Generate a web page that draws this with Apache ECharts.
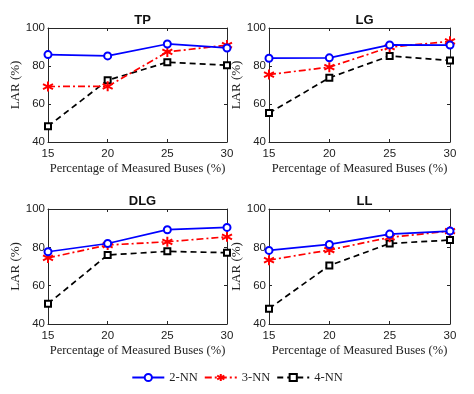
<!DOCTYPE html>
<html><head><meta charset="utf-8">
<script src="https://cdn.jsdelivr.net/npm/echarts@6/dist/echarts.min.js"></script>
<style>html,body{margin:0;padding:0;background:#fff}#c{width:474px;height:394px}</style>
</head><body><div id="c"></div>
<script>
const xValues = [15, 20, 25, 30];
const yTicks = [40, 60, 80, 100];
const panels = ['TP', 'LG', 'DLG', 'LL'];
const seriesNames = ['2-NN', '3-NN', '4-NN'];
// values per panel
const tp_2nn = [86.0, 85.3, 91.6, 89.5];
const tp_3nn = [69.2, 69.3, 87.4, 91.0];
const tp_4nn = [48.3, 72.5, 82.0, 80.4];
const lg_2nn = [84.1, 84.3, 91.1, 91.0];
const lg_3nn = [75.5, 79.4, 89.9, 93.0];
const lg_4nn = [55.2, 73.8, 85.3, 82.9];
const dlg_2nn = [77.7, 82.0, 89.2, 90.4];
const dlg_3nn = [74.5, 81.2, 82.9, 85.5];
const dlg_4nn = [50.6, 76.0, 77.9, 77.2];
const ll_2nn = [78.4, 81.5, 86.9, 88.5];
const ll_3nn = [73.3, 78.6, 85.2, 88.5];
const ll_4nn = [48.0, 70.5, 82.0, 83.8];

const panelData = [
  [tp_2nn, tp_3nn, tp_4nn],
  [lg_2nn, lg_3nn, lg_4nn],
  [dlg_2nn, dlg_3nn, dlg_4nn],
  [ll_2nn, ll_3nn, ll_4nn]
];

const grids = [
  {left: 48, top: 28, width: 179, height: 114},
  {left: 269, top: 28, width: 181, height: 114},
  {left: 48, top: 209, width: 179, height: 115},
  {left: 269, top: 209, width: 181, height: 115}
];

const axisColor = '#262626';
const serif = 'Liberation Serif';
const sans = 'Liberation Sans';
const asterisk = 'path://M0,-5L0,5M-4.33,-2.5L4.33,2.5M-4.33,2.5L4.33,-2.5';
const styles = [
  {color: '#0000ff', symbol: 'emptyCircle', symbolSize: 7, dash: 'solid', bw: 1.4},
  {color: '#ff0000', symbol: asterisk, symbolSize: 10, dash: [7, 3, 2, 3], bw: 2},
  {color: '#000000', symbol: 'emptyRect', symbolSize: 6, dash: [6, 4], bw: 1.5}
];

const xAxis = [], yAxis = [], series = [], title = [];
grids.forEach((g, i) => {
  const base = {
    gridIndex: i, type: 'value', min: 15, max: 30, interval: 5,
    axisLine: {show: true, lineStyle: {color: axisColor, width: 1}},
    axisTick: {show: true, inside: true, length: 3, lineStyle: {color: axisColor}},
    splitLine: {show: false}
  };
  xAxis.push(Object.assign({}, base, {
    position: 'bottom',
    name: 'Percentage of Measured Buses (%)', nameLocation: 'middle', nameGap: 20,
    nameTextStyle: {fontFamily: serif, fontSize: 12.5, color: '#222'},
    axisLabel: {margin: 6, fontFamily: sans, fontSize: 11.5, color: '#222'}
  }));
  xAxis.push(Object.assign({}, base, {position: 'top', axisLabel: {show: false}}));
  const ybase = {
    gridIndex: i, type: 'value', min: yTicks[0], max: yTicks[yTicks.length - 1], interval: 20,
    axisLine: {show: true, lineStyle: {color: axisColor, width: 1}},
    axisTick: {show: true, inside: true, length: 3, lineStyle: {color: axisColor}},
    splitLine: {show: false}
  };
  yAxis.push(Object.assign({}, ybase, {
    position: 'left',
    name: 'LAR (%)', nameLocation: 'middle', nameGap: 26, nameRotate: 90,
    nameTextStyle: {fontFamily: serif, fontSize: 13, color: '#222'},
    axisLabel: {margin: 3, fontFamily: sans, fontSize: 11.5, color: '#222'}
  }));
  yAxis.push(Object.assign({}, ybase, {position: 'right', axisLabel: {show: false}}));
  title.push({
    text: panels[i], left: g.left + g.width / 2, top: g.top - 19, textAlign: 'center',
    textStyle: {fontFamily: sans, fontSize: 13, fontWeight: 'bold', color: '#111'}
  });
  panelData[i].forEach((vals, k) => {
    const s = styles[k];
    series.push({
      name: seriesNames[k], type: 'line',
      xAxisIndex: i * 2, yAxisIndex: i * 2,
      data: xValues.map((x, j) => [x, vals[j]]),
      symbol: s.symbol, symbolSize: s.symbolSize,
      lineStyle: {color: s.color, width: 1.7, type: s.dash},
      itemStyle: {color: s.color, borderColor: s.color, borderWidth: s.bw},
      emphasis: {disabled: true},
      z: 3 - k,
      animation: false
    });
  });
});

const chart = echarts.init(document.getElementById('c'), null, {renderer: 'canvas'});
chart.setOption({
  animation: false,
  backgroundColor: '#fff',
  title: title,
  grid: grids,
  xAxis: xAxis,
  yAxis: yAxis,
  legend: {
    data: seriesNames, bottom: 5, left: 'center',
    itemWidth: 32, itemHeight: 9, itemGap: 6,
    textStyle: {fontFamily: serif, fontSize: 12.5, color: '#222'}
  },
  series: series
});
</script></body></html>
